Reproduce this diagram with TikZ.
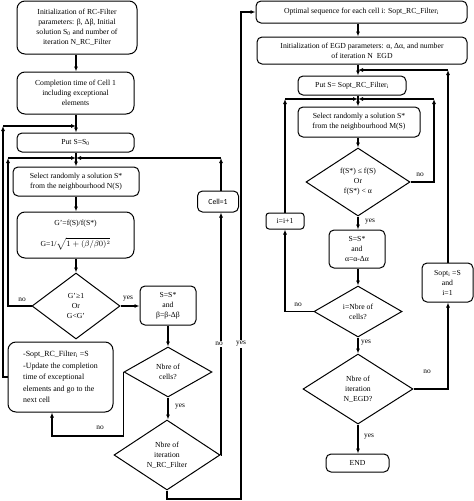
\documentclass[tikz,border=0pt]{standalone}
\usepackage{fontspec}
\setmainfont{Liberation Serif}
\newfontfamily\calfont{Carlito}
\usetikzlibrary{shapes.geometric,arrows.meta,calc}
\tikzset{
  box/.style={draw, rounded corners=5pt, line width=1pt, align=center, inner sep=1pt, font=\fontsize{7.7}{10}\selectfont},
  bigbox/.style={box, rounded corners=8pt},
  dia/.style={draw, diamond, line width=1pt, inner sep=0pt},
  dtext/.style={align=center, inner sep=0pt, font=\fontsize{7.7}{10}\selectfont},
  arr/.style={line width=1.1pt, -{Latex[length=5pt,width=4pt]}},
  ln/.style={line width=1.1pt},
  lab/.style={font=\fontsize{7.4}{9}\selectfont, inner sep=0.5pt},
  labw/.style={lab, fill=white, inner sep=1.5pt}
}
\begin{document}
\begin{tikzpicture}[x=1pt,y=-1pt]
\useasboundingbox (0,0) rectangle (474,501);
% column references
\coordinate (cL) at (76,0);
\coordinate (cR) at (358,0);
\coordinate (jL1) at (76,126);
\coordinate (jL2) at (76,158);
\coordinate (jR1) at (358,70);
\coordinate (jR2) at (358,99);
\coordinate (xA) at (3,0);
\coordinate (xB) at (8,0);
\coordinate (xC) at (221,0);
\coordinate (xD) at (241,0);
\coordinate (xF) at (52,0);
\coordinate (xG) at (285,0);
\coordinate (xH) at (434,0);
\coordinate (xI) at (448,0);
\coordinate (yBot) at (0,499);
\coordinate (yLoop) at (0,436);
% ---------- left column ----------
\node[bigbox, minimum width=120pt, minimum height=53pt] (A) at (77,27.5)
  {Initialization of RC-Filter\\parameters: β, Δβ, Initial\\solution S\textsubscript{0} and number of\\iteration N\_RC\_Filter};
\node[bigbox, minimum width=117pt, minimum height=42pt] (B) at (75.5,93)
  {Completion time of Cell 1\\including exceptional\\elements};
\node[box, minimum width=117pt, minimum height=19pt] (Put) at (75.5,142.5) {Put S=S\textsubscript{0}};
\node[box, minimum width=126pt, minimum height=29pt] (Sel) at (76,181.5)
  {Select randomly a solution S*\\from the neighbourhood N(S)};
\node[bigbox, minimum width=117pt, minimum height=46pt] (G) at (75.5,235)
  {G'=f(S)/f(S*)\\[10pt]G=1/$\sqrt{1+(\beta/\beta0)^2}$};
\node[dia, minimum width=88pt, minimum height=66pt] (D1) at (76,306) {};
\node[dtext] (D1t) at (D1.center) {G'≥1\\Or\\G<G'};
\node[box, minimum width=56pt, minimum height=39pt] (S1) at (168,305.5) {S=S*\\and\\β=β-Δβ};
\node[dia, minimum width=88pt, minimum height=50pt] (D2) at (168,372) {};
\node[dtext] (D2t) at (D2.center) {Nbre of\\cells?};
\node[bigbox, minimum width=105pt, minimum height=70pt, align=left, font=\fontsize{7.9}{11.5}\selectfont] (Sopt) at (60.5,377)
  {-Sopt\_RC\_Filter\textsubscript{i} =S\\-Update the completion\\time of exceptional\\elements and go to the\\next cell};
\node[dia, minimum width=106pt, minimum height=70pt] (D3) at (167,455) {};
\node[dtext] (D3t) at (D3.center) {Nbre of\\iteration\\N\_RC\_Filter};
\node[box, minimum width=41pt, minimum height=21pt, font=\calfont\fontsize{7.7}{10}\selectfont] (Cell) at (218,201.5) {Cell=1};
% ---------- right column ----------
\node[box, minimum width=211pt, minimum height=22pt] (Opt) at (361.5,12)
  {Optimal sequence for each cell i: Sopt\_RC\_Filter\textsubscript{i}};
\node[box, minimum width=210pt, minimum height=27pt] (Init) at (362,50.5)
  {Initialization of EGD parameters: α, Δα, and number\\of iteration N\ \ EGD};
\node[box, minimum width=108pt, minimum height=19pt] (PutR) at (352,85.5) {Put S= Sopt\_RC\_Filter\textsubscript{i}};
\node[box, minimum width=122pt, minimum height=30pt] (SelR) at (359,122)
  {Select randomly a solution S*\\from the neighbourhood M(S)};
\node[dia, minimum width=104pt, minimum height=68pt] (DF) at (358,182) {};
\node[dtext] (DFt) at (DF.center) {f(S*) ≤ f(S)\\Or\\f(S*) < α};
\node[box, minimum width=56pt, minimum height=38pt] (SA) at (357,249) {S=S*\\and\\α=α-Δα};
\node[dia, minimum width=88pt, minimum height=51pt] (DI) at (358,311.5) {};
\node[dtext] (DIt) at (DI.center) {i=Nbre of\\cells?};
\node[dia, minimum width=110pt, minimum height=70pt] (DN) at (358,389) {};
\node[dtext] (DNt) at (DN.center) {Nbre of\\iteration\\N\_EGD?};
\node[box, minimum width=63pt, minimum height=18pt] (End) at (357.5,463) {END};
\node[box, minimum width=38pt, minimum height=16pt, rounded corners=3pt] (ii) at (285,221) {i=i+1};
\node[box, minimum width=51pt, minimum height=39pt] (Sopti) at (447.5,282.5) {Sopt\textsubscript{i} =S\\and\\i=1};
% ---------- left connectors ----------
\draw[arr] (A.south -| cL) -- (B.north -| cL);
\draw[arr] (B.south -| cL) -- (Put.north -| cL);
\draw[arr] (Put.south -| cL) -- (Sel.north -| cL);
\draw[arr] (Sel.south -| cL) -- (G.north -| cL);
\draw[arr] (G.south -| cL) -- (D1.north);
\draw[arr] (D1.east) -- (S1.west |- D1.east);
\node[lab] (yes1) at (128,299) {yes};
\draw[arr] (D1.west) -- (D1.west -| xB) -- (jL2 -| xB);
\draw[arr] (jL2 -| xB) -- (jL2);
\node[lab] (no1) at (22,300) {no};
\draw[arr] (S1.south -| D2.north) -- (D2.north);
\draw[arr] (D2.west) -- (D2.west |- yLoop) -- (xF |- yLoop) -- (xF |- Sopt.south);
\node[lab] (no2) at (100,428) {no};
\draw[arr] (D2.south) -- (D3.north -| D2.south);
\node[lab] (yes2) at (180,407) {yes};
\draw[arr] (Sopt.west) -- (Sopt.west -| xA) -- (jL1 -| xA);
\draw[arr] (jL1 -| xA) -- (jL1);
\draw[arr] (D3.east) -- (D3.east -| xC) -- (Cell.south -| xC);
\draw[arr] (Cell.north -| xC) -- (jL2 -| xC);
\draw[arr] (jL2 -| xC) -- (jL2);
\node[labw] (no3) at (219,344) {no};
\draw[arr] (D3.south) -- (D3.south |- yBot) -- (xD |- yBot) -- (xD |- Opt.west) -- (Opt.west);
\node[labw] (yes3) at (241,344) {yes};
% ---------- right connectors ----------
\draw[arr] (Opt.south -| cR) -- (Init.north -| cR);
\draw[arr] (Init.south -| cR) -- (PutR.north -| cR);
\draw[arr] (PutR.south -| cR) -- (SelR.north -| cR);
\draw[arr] (SelR.south -| cR) -- (DF.north);
\draw[arr] (DF.east) -- (DF.east -| xH) -- (jR2 -| xH);
\draw[arr] (jR2 -| xH) -- (jR2);
\node[lab] (no4) at (420,175) {no};
\draw[arr] (DF.south) -- (SA.north -| DF.south);
\node[lab] (yes4) at (370,222) {yes};
\draw[arr] (SA.south -| DI.north) -- (DI.north);
\draw[arr] (DI.west) -- (DI.west -| xG) -- (ii.south);
\draw[arr] (ii.north) -- (jR2 -| xG);
\draw[arr] (jR2 -| xG) -- (jR2);
\node[lab] (no5) at (298,305) {no};
\draw[arr] (DI.south) -- (DN.north);
\node[lab] (yes5) at (366,343) {yes};
\draw[arr] (DN.east) -- (DN.east -| xI) -- (Sopti.south -| xI);
\draw[arr] (Sopti.north -| xI) -- (jR1 -| xI);
\draw[arr] (jR1 -| xI) -- (jR1);
\node[lab] (no6) at (427,372) {no};
\draw[arr] (DN.south) -- (End.north -| DN.south);
\node[lab] (yes6) at (369,437) {yes};
\end{tikzpicture}
\end{document}
